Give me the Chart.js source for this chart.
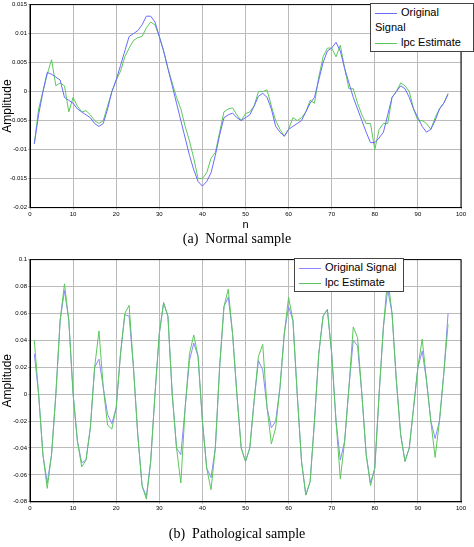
<!DOCTYPE html>
<html>
<head>
<meta charset="utf-8">
<script src="https://cdn.jsdelivr.net/npm/chart.js@4.4.0/dist/chart.umd.min.js"></script>
<style>
  body { margin: 0; background: #fff; width: 474px; height: 547px; position: relative; overflow: hidden; }
  .box { position: absolute; left: 0; width: 474px; }
  .cap { position: absolute; width: 474px; text-align: center; font-family: "Liberation Serif", serif; font-size: 14px; color: #000; }
  .leg { position: absolute; background: #fff; border: 1px solid #444; font-family: "Liberation Sans", Arial, sans-serif; font-size: 11px; line-height: 15px; padding: 1px 6px 1px 4px; }
  .leg span { display: inline-block; width: 22px; height: 0; border-top: 1px solid; vertical-align: middle; margin-right: 4px; }
</style>
</head>
<body>
<div class="box" style="top:0;height:232px"><canvas id="myChart"></canvas></div>
<div class="cap" style="top:231px">(a)&nbsp; Normal sample</div>
<div class="box" style="top:255px;height:258px"><canvas id="myChart2"></canvas></div>
<div class="cap" style="top:526px">(b)&nbsp; Pathological sample</div>
<div class="leg" style="left:370px;top:3px"><span style="border-color:#6a6aff"></span>Original Signal<br><span style="border-color:#5cc85c"></span>lpc Estimate</div>
<div class="leg" style="left:294px;top:258px"><span style="border-color:#8a8aff"></span>Original Signal<br><span style="border-color:#5cc85c"></span>lpc Estimate</div>
<script>
const normalOriginal = [-0.009,-0.004,0,0.0033,0.003,0.0025,0.002,-0.001,-0.0015,-0.002,-0.003,-0.0035,-0.004,-0.0045,-0.0055,-0.006,-0.0055,-0.003,0,0.002,0.0045,0.007,0.0095,0.01,0.0105,0.0115,0.013,0.013,0.012,0.0095,0.007,0.004,0.001,-0.002,-0.005,-0.008,-0.011,-0.0135,-0.0155,-0.0163,-0.0155,-0.014,-0.011,-0.0075,-0.0045,-0.004,-0.0037,-0.0045,-0.005,-0.0045,-0.004,-0.0025,-0.0008,-0.0003,-0.001,-0.003,-0.006,-0.007,-0.0077,-0.0065,-0.006,-0.0055,-0.005,-0.0035,-0.002,-0.001,0.002,0.005,0.007,0.0075,0.0085,0.007,0.004,0.0015,-0.001,-0.003,-0.005,-0.007,-0.0088,-0.0088,-0.008,-0.007,-0.004,-0.001,0,0.001,0.0005,-0.001,-0.003,-0.0045,-0.006,-0.007,-0.0065,-0.005,-0.003,-0.002,-0.0005];
const normalLpc = [-0.009,-0.003,0,0.003,0.0055,0.001,0.0015,0.001,-0.0035,-0.001,-0.0025,-0.0035,-0.0033,-0.004,-0.005,-0.0055,-0.005,-0.0025,0,0.002,0.0035,0.006,0.0075,0.0088,0.0093,0.0095,0.011,0.012,0.0115,0.0095,0.007,0.004,0.0015,-0.001,-0.003,-0.006,-0.0085,-0.0115,-0.015,-0.015,-0.014,-0.0115,-0.0105,-0.007,-0.0035,-0.003,-0.0028,-0.004,-0.005,-0.0038,-0.0035,-0.0025,0,0,0.0003,-0.0025,-0.005,-0.0065,-0.0077,-0.0065,-0.0045,-0.005,-0.0045,-0.0035,-0.0015,-0.002,0.0025,0.006,0.0075,0.0075,0.006,0.008,0.004,0.0005,0.0005,-0.002,-0.004,-0.0055,-0.0055,-0.01,-0.0065,-0.0055,-0.0055,-0.001,0,0.0015,0.001,0,-0.003,-0.005,-0.005,-0.0055,-0.0065,-0.0045,-0.003,-0.002,-0.0003];
const pathOriginal = [0.03,0,-0.045,-0.066,-0.045,0,0.055,0.077,0.055,0,-0.035,-0.051,-0.049,-0.025,0.02,0.026,0.005,-0.015,-0.022,-0.01,0.03,0.059,0.058,0.02,-0.03,-0.068,-0.076,-0.05,0,0.045,0.068,0.058,0,-0.04,-0.045,-0.01,0.025,0.038,0.028,-0.02,-0.055,-0.062,-0.04,0.02,0.065,0.072,0.045,0,-0.04,-0.05,-0.04,-0.005,0.025,0.018,-0.01,-0.025,-0.02,0.005,0.045,0.065,0.055,0,-0.05,-0.075,-0.065,-0.02,0.03,0.058,0.063,0.03,-0.02,-0.049,-0.035,0.005,0.04,0.036,0,-0.045,-0.066,-0.055,0,0.05,0.078,0.06,0.01,-0.03,-0.05,-0.04,-0.01,0.02,0.032,0.01,-0.02,-0.033,-0.02,0.015,0.06];
const pathLpc = [0.04,0,-0.045,-0.07,-0.045,0,0.055,0.082,0.055,0,-0.035,-0.054,-0.049,-0.025,0.02,0.047,0.005,-0.023,-0.026,-0.01,0.03,0.06,0.066,0.02,-0.03,-0.068,-0.078,-0.05,0,0.045,0.068,0.058,0,-0.04,-0.066,-0.01,0.03,0.044,0.028,-0.02,-0.055,-0.071,-0.04,0.02,0.065,0.078,0.045,0,-0.04,-0.05,-0.04,-0.005,0.028,0.037,-0.01,-0.037,-0.025,0.005,0.045,0.072,0.055,0,-0.05,-0.075,-0.065,-0.02,0.03,0.058,0.063,0.03,-0.02,-0.063,-0.035,0.005,0.05,0.042,0,-0.045,-0.068,-0.055,0,0.05,0.087,0.06,0.01,-0.03,-0.05,-0.04,-0.01,0.02,0.041,0.01,-0.02,-0.047,-0.02,0.015,0.052];
const nValues = normalOriginal.map((v, i) => i + 1);

const tickFont = { size: 6, family: "'Liberation Sans', Arial, sans-serif" };

// lpcOnTop: in the pathological plot the green estimate covers the blue signal
function makeChart(el, orig, lpc, yMin, yMax, yStep, pad, xTitle, blue, lpcOnTop) {
  return new Chart(el, {
    type: 'line',
    data: {
      datasets: [
        { label: 'Original Signal', data: nValues.map((n, i) => ({ x: n, y: orig[i] })), borderColor: blue, borderWidth: 1, pointRadius: 0, tension: 0, order: lpcOnTop ? 2 : 1 },
        { label: 'lpc Estimate', data: nValues.map((n, i) => ({ x: n, y: lpc[i] })), borderColor: '#5cc85c', borderWidth: 1, pointRadius: 0, tension: 0, order: lpcOnTop ? 1 : 2 }
      ]
    },
    options: {
      responsive: true,
      maintainAspectRatio: false,
      animation: false,
      layout: { padding: pad },
      plugins: { legend: { display: false }, tooltip: { enabled: false } },
      scales: {
        x: {
          type: 'linear', min: 0, max: 100,
          ticks: { stepSize: 10, font: tickFont, color: '#000', padding: 1 },
          grid: { color: '#bbb', tickLength: 2 },
          border: { color: '#000' },
          title: { display: xTitle, text: 'n', font: { size: 11, family: "'Liberation Sans', Arial, sans-serif" }, color: '#000', padding: 0 }
        },
        y: {
          min: yMin, max: yMax,
          afterFit: s => { s.width = 30; },
          ticks: { stepSize: yStep, font: tickFont, color: '#000', padding: 1, callback: v => +v.toFixed(3) },
          grid: { color: '#bbb', tickLength: 2 },
          border: { color: '#000' },
          title: { display: true, text: 'Amplitude', font: { size: 12, family: "'Liberation Sans', Arial, sans-serif" }, color: '#000', padding: 0 }
        }
      }
    },
    plugins: [{
      id: 'frame',
      afterDraw(c) {
        const a = c.chartArea, g = c.ctx;
        g.save(); g.strokeStyle = '#000'; g.lineWidth = 1;
        g.strokeRect(a.left, a.top, a.right - a.left, a.bottom - a.top);
        g.restore();
      }
    }]
  });
}

makeChart(document.getElementById('myChart'), normalOriginal, normalLpc, -0.02, 0.015, 0.005, { top: 3, right: 13, left: 0, bottom: 0 }, true, '#6a6aff', false);
makeChart(document.getElementById('myChart2'), pathOriginal, pathLpc, -0.08, 0.1, 0.02, { top: 4, right: 13, left: 0, bottom: 0 }, false, '#8a8aff', true);
</script>
</body>
</html>
